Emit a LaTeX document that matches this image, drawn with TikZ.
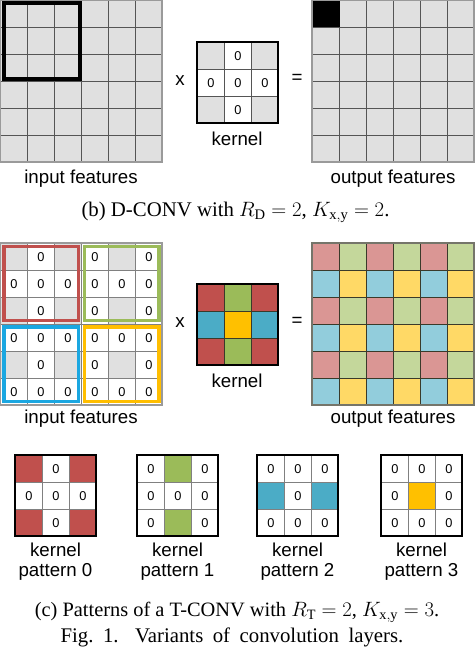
\documentclass[tikz,border=0pt]{standalone}
\usepackage{fontspec}
\setmainfont{Liberation Serif}
\newfontfamily\labfont{Liberation Sans}
\definecolor{cellgray}{HTML}{E0E0E0}
\definecolor{zw}{HTML}{FFFFFF}
\definecolor{gridline}{HTML}{555555}
\definecolor{edgegray}{HTML}{9A9A9A}
\definecolor{kred}{HTML}{C0504D}
\definecolor{kgreen}{HTML}{9BBB59}
\definecolor{kblue}{HTML}{4BACC6}
\definecolor{kyellow}{HTML}{FFC000}
\definecolor{bblue}{HTML}{1BA7E1}
\definecolor{borange}{HTML}{FFBE00}
\definecolor{lred}{HTML}{DA9694}
\definecolor{lgreen}{HTML}{C4D79B}
\definecolor{lblue}{HTML}{92CDDC}
\definecolor{lyellow}{HTML}{FFD966}
\definecolor{olive}{HTML}{3A3A2A}
\def\zwname{zw}
\newcommand{\kgrid}[5]{% name, x, y, inner line colour, entries
  \foreach \f [count=\i from 0] in {#5}{%
    \pgfmathtruncatemacro{\cc}{mod(\i,3)}%
    \pgfmathtruncatemacro{\rr}{div(\i,3)}%
    \node[cellbox, draw=#4, fill=\f] (#1-\i) at ({#2+\cc*27},{#3+\rr*27}) {\ifx\f\zwname 0\fi};%
  }%
  \draw[line width=2pt] (#2,#3) rectangle ++(81,81);%
}
\begin{document}
\begin{tikzpicture}[x=1pt,y=-1pt,
  cellbox/.style={draw=gridline, line width=0.9pt, minimum size=27pt, inner sep=0pt, anchor=north west, font={\labfont\fontsize{12.8}{14}\selectfont}},
  lbl/.style={font={\labfont\fontsize{18.7}{22}\selectfont}, inner sep=0pt, anchor=base},
  optext/.style={font={\labfont\fontsize{18.7}{22}\selectfont}, inner sep=0pt},
  captext/.style={font={\fontsize{20.8}{24}\selectfont}, inner sep=0pt, anchor=base}]
\useasboundingbox (0,0) rectangle (474,647);

% ---------- (b) D-CONV ----------
\foreach \r in {0,...,5}{\foreach \c in {0,...,5}{
  \node[cellbox, fill=cellgray] (ti-\r-\c) at (\c*27,\r*27) {};
}}
\draw[edgegray, line width=1.5pt] (0,0) rectangle (162,162);
\draw[line width=4pt] (3.5,3.5) rectangle (79.5,79.5);

\kgrid{tk}{197}{42}{gridline}{cellgray,zw,cellgray,zw,zw,zw,cellgray,zw,cellgray}

\foreach \r in {0,...,5}{\foreach \c in {0,...,5}{
  \node[cellbox, fill=cellgray] (to-\r-\c) at (312+\c*27,\r*27) {};
}}
\draw[edgegray, line width=1.5pt] (312,0) rectangle (474,162);
\fill (313,1) rectangle (339.5,27.5);

\node[optext] (tx) at (180,81) {x};
\node[optext] (teq) at (297,79) {=};
\node[lbl] (tkl) at (237,146) {kernel};
\node[lbl] (til) at (81,183) {input features};
\node[lbl] (tol) at (393,183.5) {output features};
\node[captext] (capb) at (235.5,216) {(b) D-CONV with $R_{\mathrm{D}}=2$, $K_{\mathrm{x,y}}=2$.};

% ---------- T-CONV ----------
\foreach \r in {0,...,5}{\foreach \c in {0,...,5}{
  \pgfmathtruncatemacro{\isg}{mod(\r,2)+mod(\c,2)}
  \ifnum\isg=0
    \node[cellbox, draw=gray, fill=cellgray] (mi-\r-\c) at (\c*27,243+\r*27) {};
  \else
    \node[cellbox, draw=gray, fill=white] (mi-\r-\c) at (\c*27,243+\r*27) {0};
  \fi
}}
\draw[edgegray, line width=1.2pt] (0,243) rectangle (162,405);
\draw[kred, line width=3.5pt] (4,246.5) rectangle (78.5,320.5);
\draw[kgreen, line width=3.5pt] (84.5,246.5) rectangle (159,320.5);
\draw[bblue, line width=3.5pt] (4,327) rectangle (78.5,401.5);
\draw[borange, line width=3.5pt] (84.5,327) rectangle (159,401.5);

\kgrid{mk}{197}{284}{olive}{kred,kgreen,kred,kblue,kyellow,kblue,kred,kgreen,kred}

\foreach \r in {0,...,5}{\foreach \c in {0,...,5}{
  \pgfmathtruncatemacro{\ci}{mod(\r,2)*2+mod(\c,2)}
  \ifcase\ci \def\fc{lred}\or \def\fc{lgreen}\or \def\fc{lblue}\or \def\fc{lyellow}\fi
  \node[cellbox, draw=olive, line width=1.1pt, fill=\fc] (mo-\r-\c) at (312+\c*27,243+\r*27) {};
}}
\draw[olive!70, line width=1.2pt] (312,243) rectangle (474,405);

\node[optext] (mx) at (180,323) {x};
\node[optext] (meq) at (297,322) {=};
\node[lbl] (mkl) at (237,387) {kernel};
\node[lbl] (mil) at (81,423) {input features};
\node[lbl] (mol) at (393,423) {output features};

% ---------- (c) patterns ----------
\kgrid{p0}{15}{455}{gray}{kred,zw,kred,zw,zw,zw,kred,zw,kred}
\kgrid{p1}{137}{455}{gray}{zw,kgreen,zw,zw,zw,zw,zw,kgreen,zw}
\kgrid{p2}{257}{455}{gray}{zw,zw,zw,kblue,zw,kblue,zw,zw,zw}
\kgrid{p3}{381}{455}{gray}{zw,zw,zw,zw,kyellow,zw,zw,zw,zw}

\foreach \k/\xc in {0/55.5,1/177.5,2/297.5,3/421.5}{
  \node[lbl] (pk\k) at (\xc,556.5) {kernel};
  \node[lbl] (pp\k) at (\xc,576.5) {pattern \k};
}
\node[captext, font={\fontsize{20.4}{24}\selectfont}] (capc) at (237,616) {(c) Patterns of a T-CONV with $R_{\mathrm{T}}=2$, $K_{\mathrm{x,y}}=3$.};
\node[captext] (fig) at (232,642) {\frenchspacing\spaceskip=9.5pt Fig.\hspace{0pt} 1.\hspace{7pt} Variants of convolution layers.};
\end{tikzpicture}
\end{document}
